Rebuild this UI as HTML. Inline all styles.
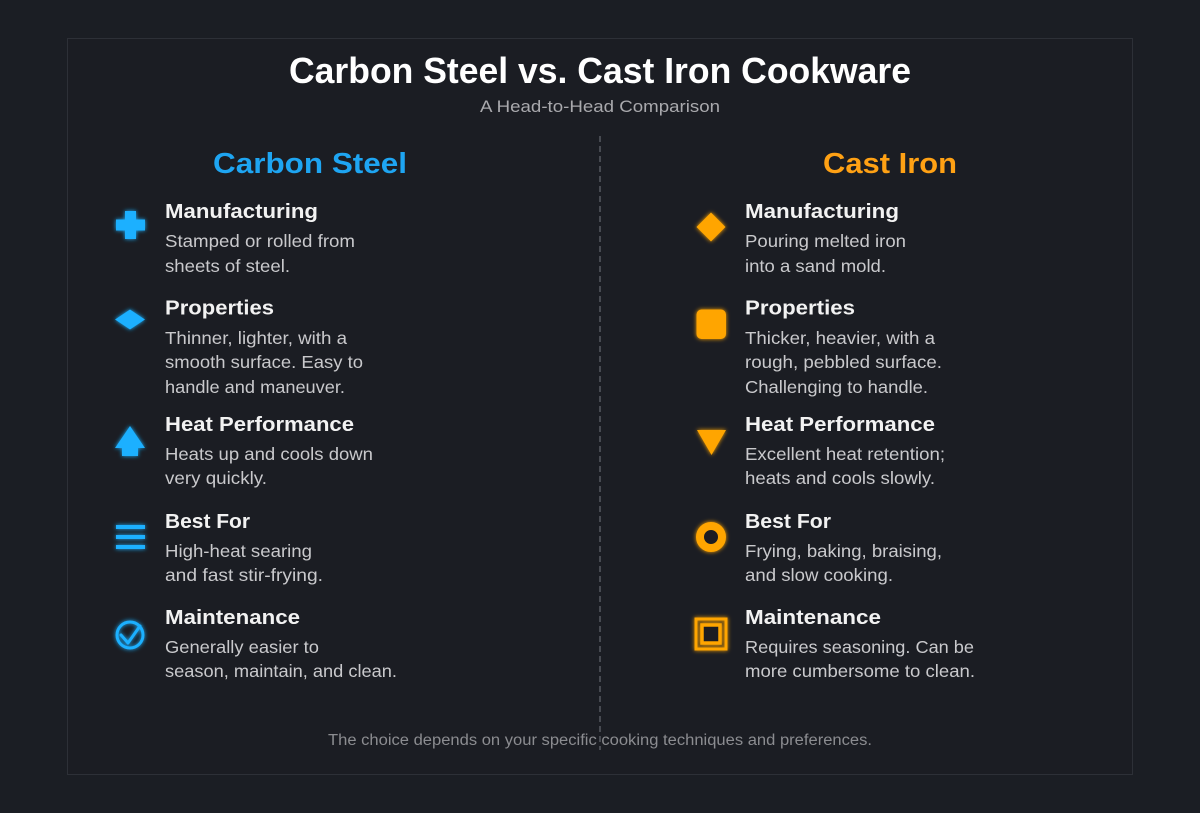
<!DOCTYPE html>
<html>
<head>
<meta charset="utf-8">
<style>
  html,body{margin:0;padding:0;background:#1b1e24;}
  body{width:1200px;height:813px;overflow:hidden;}
  svg{display:block;}
  .h{font-family:"Liberation Sans",Arial,sans-serif;font-weight:bold;font-size:20px;fill:#f2f2f2;}
  .d{font-family:"Liberation Sans",Arial,sans-serif;font-size:17.5px;fill:#c9c9cc;}
</style>
</head>
<body>
<svg width="1200" height="813" viewBox="0 0 1200 813" xmlns="http://www.w3.org/2000/svg">
  <defs>
    <filter id="gb" x="-50%" y="-50%" width="200%" height="200%">
      <feGaussianBlur in="SourceGraphic" stdDeviation="2.2" result="b"/>
      <feMerge><feMergeNode in="b"/><feMergeNode in="SourceGraphic"/></feMerge>
    </filter>
  </defs>
  <rect x="0" y="0" width="1200" height="813" fill="#1b1e24"/>
  <rect x="67.5" y="38.5" width="1065" height="736" fill="#1b1d23" stroke="#2d3037" stroke-width="1"/>

  <text x="600" y="83" text-anchor="middle" font-family="Liberation Sans, Arial, sans-serif" font-weight="bold" font-size="36" fill="#ffffff" textLength="622" lengthAdjust="spacingAndGlyphs">Carbon Steel vs. Cast Iron Cookware</text>
  <text x="600" y="112" text-anchor="middle" font-family="Liberation Sans, Arial, sans-serif" font-size="16.5" fill="#a9a9ad" textLength="240" lengthAdjust="spacingAndGlyphs">A Head-to-Head Comparison</text>

  <line x1="600" y1="136" x2="600" y2="750" stroke="#565a61" stroke-width="1.5" stroke-dasharray="6 4"/>

  <text x="310" y="173" text-anchor="middle" font-family="Liberation Sans, Arial, sans-serif" font-weight="bold" font-size="29" fill="#1ea5f2" textLength="194" lengthAdjust="spacingAndGlyphs">Carbon Steel</text>
  <text x="890" y="173" text-anchor="middle" font-family="Liberation Sans, Arial, sans-serif" font-weight="bold" font-size="29" fill="#ffa114" textLength="134" lengthAdjust="spacingAndGlyphs">Cast Iron</text>

  <!-- LEFT ICONS -->
  <g fill="#1ab0ff" filter="url(#gb)">
    <path d="M125,211 H136 V219.5 H145 V230.5 H136 V239 H125 V230.5 H116 V219.5 H125 Z"/>
    <polygon points="130,309.5 145,319.5 130,329.5 115,319.5"/>
    <polygon points="130,426 145,448 138,448 138,456 122,456 122,448 115,448"/>
    <rect x="116" y="525" width="29" height="4"/>
    <rect x="116" y="535" width="29" height="4"/>
    <rect x="116" y="545" width="29" height="4"/>
  </g>
  <g fill="none" stroke="#1ab0ff" stroke-width="3" filter="url(#gb)">
    <circle cx="130" cy="635" r="13"/>
    <polyline points="121,635 128,643 140,626" stroke-linecap="round" stroke-linejoin="round"/>
  </g>

  <!-- RIGHT ICONS -->
  <g fill="#ffa500" filter="url(#gb)">
    <polygon points="711,212.5 725.5,227 711,241.5 696.5,227"/>
    <rect x="696.5" y="309.5" width="29.5" height="29.5" rx="5"/>
    <polygon points="697,430 726,430 711.5,455"/>
  </g>
  <g filter="url(#gb)">
    <circle cx="711" cy="537" r="11" fill="#1b1d23" stroke="#ffa500" stroke-width="8"/>
    <rect x="696" y="619" width="30" height="30" fill="none" stroke="#ffa500" stroke-width="3"/>
    <rect x="702" y="625" width="18" height="18" fill="#1b1d23" stroke="#ffa500" stroke-width="3.5"/>
  </g>

  <!-- LEFT TEXT -->
  <text class="h" x="165" y="218" textLength="153" lengthAdjust="spacingAndGlyphs">Manufacturing</text>
  <text class="d" x="165" y="247" textLength="190" lengthAdjust="spacingAndGlyphs">Stamped or rolled from</text>
  <text class="d" x="165" y="272" textLength="125" lengthAdjust="spacingAndGlyphs">sheets of steel.</text>

  <text class="h" x="165" y="314.5" textLength="109" lengthAdjust="spacingAndGlyphs">Properties</text>
  <text class="d" x="165" y="344" textLength="182" lengthAdjust="spacingAndGlyphs">Thinner, lighter, with a</text>
  <text class="d" x="165" y="368" textLength="198" lengthAdjust="spacingAndGlyphs">smooth surface. Easy to</text>
  <text class="d" x="165" y="393" textLength="180" lengthAdjust="spacingAndGlyphs">handle and maneuver.</text>

  <text class="h" x="165" y="431" textLength="189" lengthAdjust="spacingAndGlyphs">Heat Performance</text>
  <text class="d" x="165" y="460" textLength="208" lengthAdjust="spacingAndGlyphs">Heats up and cools down</text>
  <text class="d" x="165" y="484" textLength="102" lengthAdjust="spacingAndGlyphs">very quickly.</text>

  <text class="h" x="165" y="528" textLength="85" lengthAdjust="spacingAndGlyphs">Best For</text>
  <text class="d" x="165" y="557" textLength="147" lengthAdjust="spacingAndGlyphs">High-heat searing</text>
  <text class="d" x="165" y="581" textLength="158" lengthAdjust="spacingAndGlyphs">and fast stir-frying.</text>

  <text class="h" x="165" y="624" textLength="135" lengthAdjust="spacingAndGlyphs">Maintenance</text>
  <text class="d" x="165" y="653" textLength="154" lengthAdjust="spacingAndGlyphs">Generally easier to</text>
  <text class="d" x="165" y="677" textLength="232" lengthAdjust="spacingAndGlyphs">season, maintain, and clean.</text>

  <!-- RIGHT TEXT -->
  <text class="h" x="745" y="218" textLength="154" lengthAdjust="spacingAndGlyphs">Manufacturing</text>
  <text class="d" x="745" y="247" textLength="161" lengthAdjust="spacingAndGlyphs">Pouring melted iron</text>
  <text class="d" x="745" y="272" textLength="141" lengthAdjust="spacingAndGlyphs">into a sand mold.</text>

  <text class="h" x="745" y="314.5" textLength="110" lengthAdjust="spacingAndGlyphs">Properties</text>
  <text class="d" x="745" y="344" textLength="190" lengthAdjust="spacingAndGlyphs">Thicker, heavier, with a</text>
  <text class="d" x="745" y="368" textLength="197" lengthAdjust="spacingAndGlyphs">rough, pebbled surface.</text>
  <text class="d" x="745" y="393" textLength="183" lengthAdjust="spacingAndGlyphs">Challenging to handle.</text>

  <text class="h" x="745" y="431" textLength="190" lengthAdjust="spacingAndGlyphs">Heat Performance</text>
  <text class="d" x="745" y="460" textLength="200" lengthAdjust="spacingAndGlyphs">Excellent heat retention;</text>
  <text class="d" x="745" y="484" textLength="190" lengthAdjust="spacingAndGlyphs">heats and cools slowly.</text>

  <text class="h" x="745" y="528" textLength="86" lengthAdjust="spacingAndGlyphs">Best For</text>
  <text class="d" x="745" y="557" textLength="197" lengthAdjust="spacingAndGlyphs">Frying, baking, braising,</text>
  <text class="d" x="745" y="581" textLength="148" lengthAdjust="spacingAndGlyphs">and slow cooking.</text>

  <text class="h" x="745" y="624" textLength="136" lengthAdjust="spacingAndGlyphs">Maintenance</text>
  <text class="d" x="745" y="653" textLength="229" lengthAdjust="spacingAndGlyphs">Requires seasoning. Can be</text>
  <text class="d" x="745" y="677" textLength="230" lengthAdjust="spacingAndGlyphs">more cumbersome to clean.</text>

  <text x="600" y="745" text-anchor="middle" font-family="Liberation Sans, Arial, sans-serif" font-size="15.5" fill="#8b8c90" textLength="544" lengthAdjust="spacingAndGlyphs">The choice depends on your specific cooking techniques and preferences.</text>
</svg>
</body>
</html>
